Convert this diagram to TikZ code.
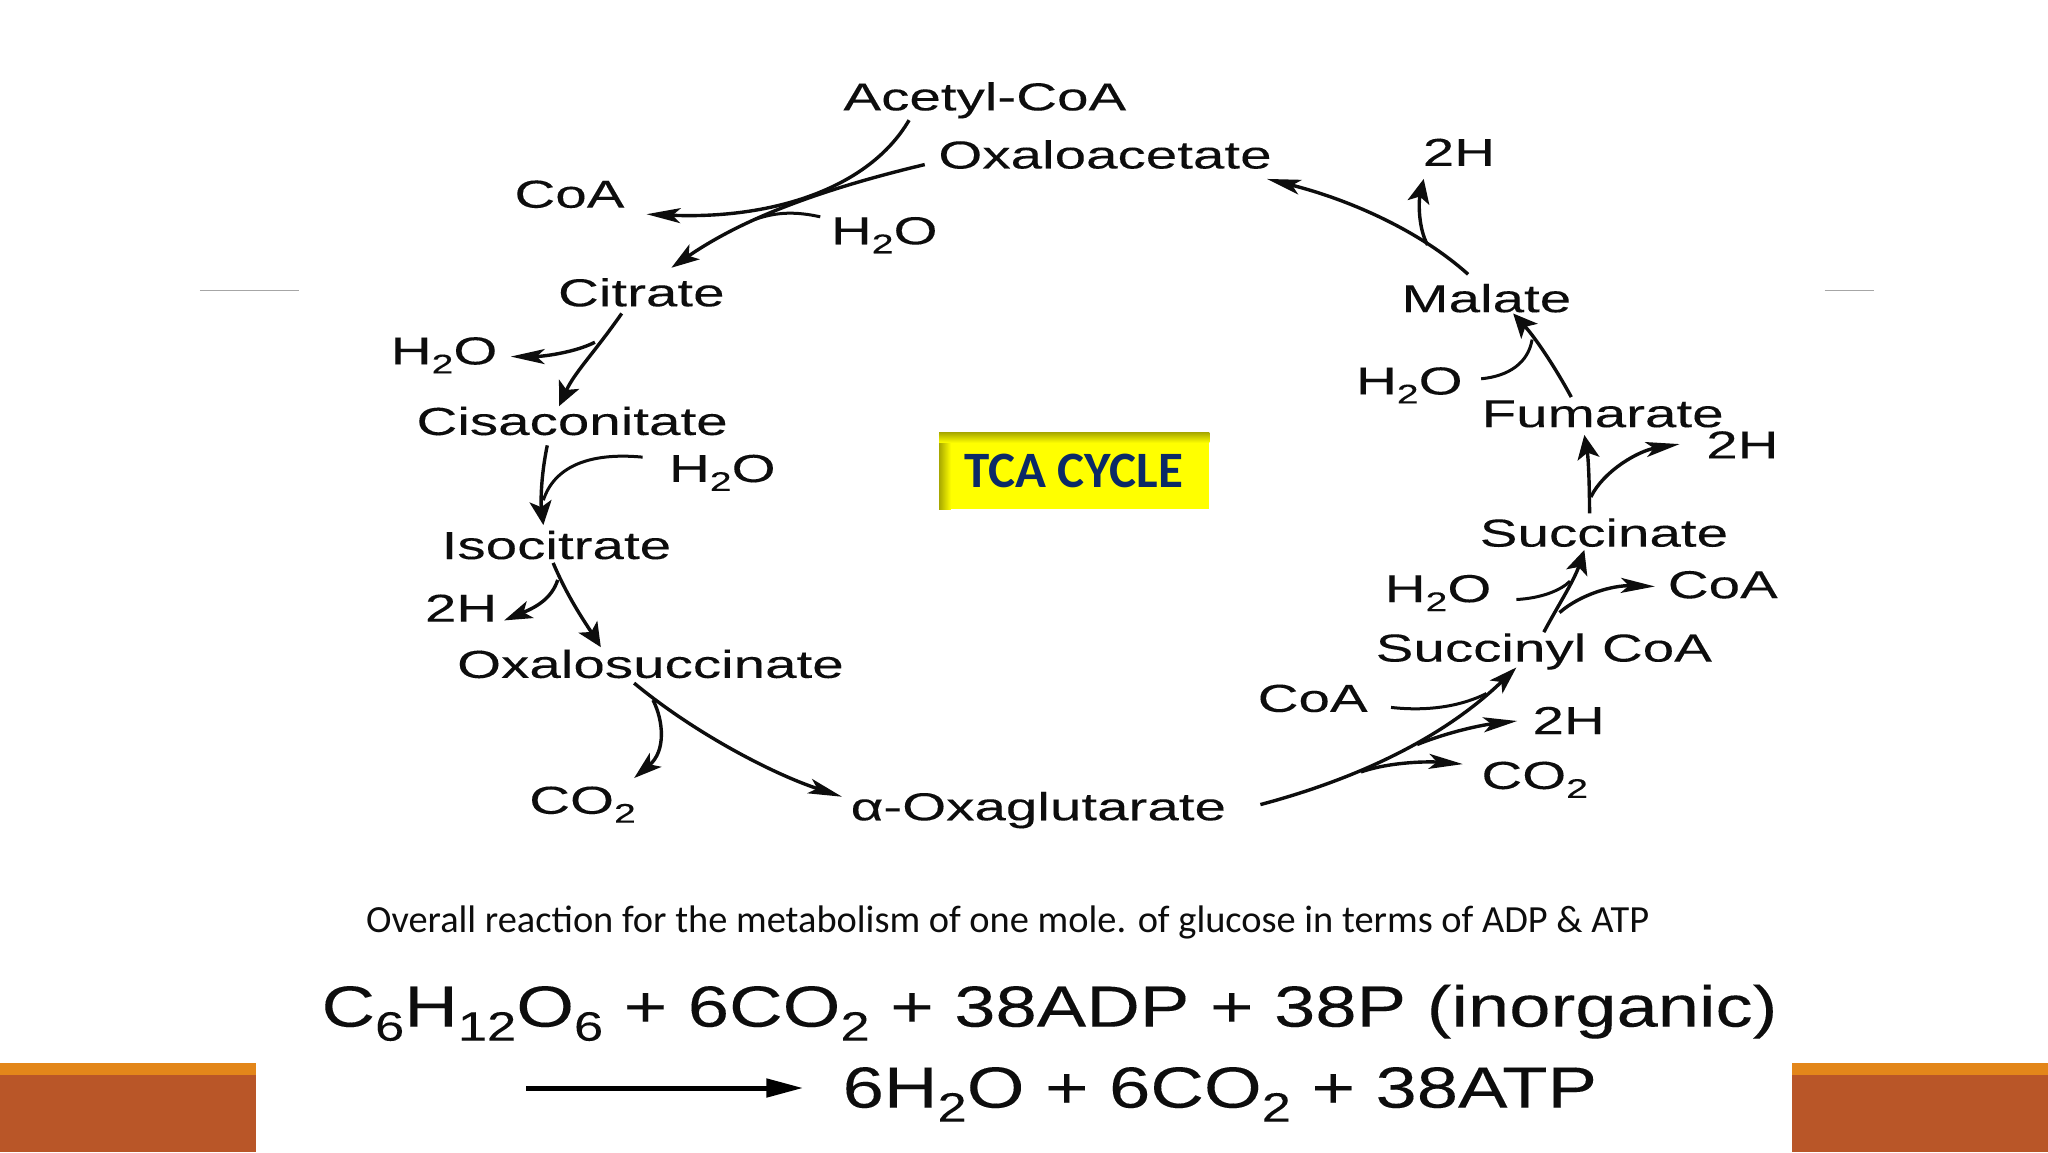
\documentclass[tikz,border=0pt]{standalone}
\usepackage{fontspec}
\usetikzlibrary{arrows.meta}
\newfontfamily\dgfont[FakeStretch=1.45,FakeBold=0.12]{Liberation Sans}
\newfontfamily\eqfont[FakeStretch=1.28,FakeBold=0.12]{Liberation Sans}
\setmainfont{Carlito}
\definecolor{rust}{HTML}{B95628}
\definecolor{amberband}{HTML}{E3861A}
\definecolor{ruleline}{HTML}{A6A6A6}
\definecolor{navytxt}{HTML}{0B2A66}
\definecolor{boxyellow}{HTML}{FFFF00}
\definecolor{boxolive}{HTML}{A8A800}
\newcommand{\dsub}[1]{\raisebox{-9pt}{\fontsize{27}{27}\selectfont #1}}
\newcommand{\esub}[1]{\raisebox{-14pt}{\fontsize{41}{41}\selectfont #1}}
\tikzset{
 lbl/.style={anchor=base,inner sep=0pt,text=black!95,font=\dgfont\fontsize{39}{39}\selectfont},
 eqn/.style={anchor=base west,inner sep=0pt,text=black!95,font=\eqfont\fontsize{58}{58}\selectfont},
 rx/.style={line width=3.4pt,black!95,-{Stealth[length=28pt,width=18pt,inset=7pt]}},
 rh/.style={line width=3.4pt,black!95,-{Stealth[length=34pt,width=15pt,inset=8pt]}},
 rv/.style={line width=3.4pt,black!95,-{Stealth[length=24pt,width=22pt,inset=6pt]}},
 rin/.style={line width=3pt,black!95},
 bigarrow/.style={line width=5pt,black,-{Stealth[length=37pt,width=18pt,inset=0pt]}},
}
\newcommand{\off}[3]{([shift={(#2,#3)}]#1.base)}
\begin{document}
\begin{tikzpicture}[x=1.30612pt,y=-1.30612pt]
\useasboundingbox (0,0) rectangle (1568,882);
\fill[white] (0,0) rectangle (1568,882);
% slide furniture
\fill[rust] (0,814) rectangle (196,882);
\fill[amberband] (0,814) rectangle (196,823);
\fill[rust] (1372,814) rectangle (1568,882);
\fill[amberband] (1372,814) rectangle (1568,823);
\draw[ruleline,line width=1pt] (153,222.5) -- (229,222.5);
\draw[ruleline,line width=1pt] (1397,222.5) -- (1435,222.5);
% box
\fill[boxyellow] (719,331) rectangle (926,390);
\shade[left color=boxolive,right color=boxyellow] (719,331) rectangle (728,390);
\shade[top color=boxolive,bottom color=boxyellow] (719,331) rectangle (926,339);
\node[anchor=base,inner sep=0pt,text=navytxt,font=\bfseries\fontsize{51}{51}\selectfont] (tca) at (822,373.5) {TCA CYCLE};
% labels
\node[lbl] (acetyl) at (754,84.5) {Acetyl-CoA};
\node[lbl] (oxalo) at (846,129) {Oxaloacetate};
\node[lbl] (coaA) at (436,159) {CoA};
\node[lbl] (waterA) at (677,187) {H\dsub{2}O};
\node[lbl] (citrate) at (491,234.5) {Citrate};
\node[lbl] (waterB) at (340,279) {H\dsub{2}O};
\node[lbl] (cis) at (438,333) {Cisaconitate};
\node[lbl] (waterC) at (553,369) {H\dsub{2}O};
\node[lbl] (iso) at (426,428) {Isocitrate};
\node[lbl] (twoA) at (353,476) {2H};
\node[lbl] (oxsuc) at (498,519) {Oxalosuccinate};
\node[lbl] (cotA) at (446,623) {CO\dsub{2}};
\node[lbl] (alpha) at (795,628) {α-Oxaglutarate};
\node[lbl] (cotB) at (1175,604) {CO\dsub{2}};
\node[lbl] (twoB) at (1201,562) {2H};
\node[lbl] (coaB) at (1005,545) {CoA};
\node[lbl] (sucoa) at (1182,506.5) {Succinyl CoA};
\node[lbl] (waterD) at (1101,461) {H\dsub{2}O};
\node[lbl] (coaC) at (1319,458) {CoA};
\node[lbl] (succ) at (1228,418.5) {Succinate};
\node[lbl] (twoC) at (1334,351) {2H};
\node[lbl] (fum) at (1227,327) {Fumarate};
\node[lbl] (waterE) at (1079,302) {H\dsub{2}O};
\node[lbl] (malate) at (1138,239) {Malate};
\node[lbl] (twoD) at (1117,127) {2H};
% joining points
\coordinate (jA) at (578,168);
\coordinate (jB) at (455.5,262);
\coordinate (jC) at (416,383);
\coordinate (jD) at (427,444);
\coordinate (jE) at (500,536);
\coordinate (jF) at (1042,591);
\coordinate (jG) at (1085,570);
\coordinate (jH) at (1138,531);
\coordinate (jI) at (1202,445);
\coordinate (jJ) at (1194,469);
\coordinate (jK) at (1218,380.5);
\coordinate (jL) at (1173,260);
\coordinate (jM) at (1093,187.6);
% left side
\draw[rh] \off{acetyl}{-58}{7.5} .. controls (665,145) and (590,168) .. \off{coaA}{59}{5};
\draw[rx] \off{oxalo}{-138}{-3} .. controls (620,147) and (565,170) .. \off{citrate}{23}{-29.5};
\draw[rin] \off{waterA}{-49}{-21} .. controls (610,162) and (595,162) .. (jA);
\draw[rv] \off{citrate}{-15}{5.5} .. controls (455,270) and (440,285) .. \off{cis}{-10}{-22};
\draw[rh] (jB) .. controls (440,270) and (415,273) .. \off{waterB}{51}{-6};
\draw[rv] \off{cis}{-19}{8} .. controls (414,365) and (414,385) .. \off{iso}{-10}{-26};
\draw[rin] \off{waterC}{-61}{-19} .. controls (450,346) and (424,358) .. (jC);
\draw[rv] \off{iso}{-2.5}{3} .. controls (435,458) and (447,475) .. \off{oxsuc}{-38}{-23.5};
\draw[rx] (jD) .. controls (422.5,458) and (411,464.6) .. \off{twoA}{33}{-1};
\draw[rh] \off{oxsuc}{-12.5}{4} .. controls (530,560) and (590,592) .. \off{alpha}{-150.3}{-18};
\draw[rx] (jE) .. controls (508,552) and (510,575) .. \off{cotA}{39.5}{-27.3};
% right side
\draw[rx] \off{alpha}{170}{-12} .. controls (1040,596) and (1105,565) .. \off{sucoa}{-21}{4.5};
\draw[rh] (jF) .. controls (1065,583) and (1095,583) .. \off{cotB}{-55}{-19};
\draw[rh] (jG) .. controls (1110,560) and (1135,555) .. \off{twoB}{-39.4}{-10};
\draw[rin] \off{coaB}{60}{-3.4} .. controls (1095,545) and (1120,540) .. (jH);
\draw[rv] \off{sucoa}{0}{-22.5} .. controls (1192,465) and (1205,445) .. \off{succ}{-15}{2.5};
\draw[rin] \off{waterD}{60}{-2} .. controls (1180,458) and (1195,452) .. (jI);
\draw[rh] (jJ) .. controls (1210,455) and (1235,448) .. \off{coaC}{-52}{-9};
\draw[rv] \off{succ}{-11}{-25.5} .. controls (1217,370) and (1216,350) .. \off{fum}{-14}{6};
\draw[rh] (jK) .. controls (1228,360) and (1255,345) .. \off{twoC}{-48}{-11};
\draw[rv] \off{fum}{-24}{-23} .. controls (1190,280) and (1175,258) .. \off{malate}{20.5}{1};
\draw[rin] \off{waterE}{55}{-12} .. controls (1155,288) and (1170,278) .. (jL);
\draw[rh] \off{malate}{-14}{-29} .. controls (1085,175) and (1030,152) .. \off{oxalo}{124}{8};
\draw[rv] (jM) .. controls (1086,175) and (1086,155) .. \off{twoD}{-27}{10};
% caption and equation
\node[inner sep=0pt,anchor=base,text=black!95,font=\fontsize{38.4}{38.4}\selectfont] (note) at (771.5,714) {Overall reaction for the metabolism of one mole. of glucose in terms of ADP \& ATP};
\node[eqn] (eqA) at (246,786) {C\esub{6}H\esub{12}O\esub{6} + 6CO\esub{2} + 38ADP + 38P (inorganic)};
\node[eqn] (eqB) at (645,848) {6H\esub{2}O + 6CO\esub{2} + 38ATP};
\coordinate (arrowfree) at (403,833);
\coordinate (arrowtip) at (615,833);
\draw[bigarrow] (arrowfree) -- (arrowtip);
\end{tikzpicture}
\end{document}
